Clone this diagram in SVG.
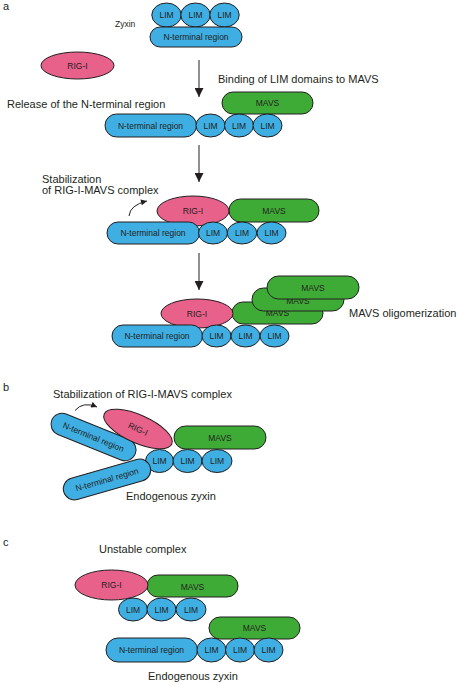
<svg xmlns="http://www.w3.org/2000/svg" width="458" height="685" viewBox="0 0 458 685">
<defs>
<style>
.b{fill:#3eaee3;stroke:#231f20;stroke-width:1}
.p{fill:#e8618b;stroke:#231f20;stroke-width:1}
.g{fill:#3fab37;stroke:#231f20;stroke-width:1}
.t{font-family:"Liberation Sans",Arial,sans-serif;font-size:8.5px;fill:#231f20;text-anchor:middle}
.c{font-family:"Liberation Sans",Arial,sans-serif;font-size:11px;fill:#231f20}
.pl{font-family:"Liberation Sans",Arial,sans-serif;font-size:11px;fill:#231f20}
.ln{fill:none;stroke:#231f20;stroke-width:1}
</style>
<marker id="ah" viewBox="0 0 10 10" refX="10" refY="5" markerWidth="11" markerHeight="9" markerUnits="userSpaceOnUse" orient="auto"><path d="M0,0 L10,5 L0,10 z" fill="#231f20"/></marker>
<marker id="ahs" viewBox="0 0 10 10" refX="10" refY="5" markerWidth="7" markerHeight="6" markerUnits="userSpaceOnUse" orient="auto"><path d="M0,0 L10,5 L0,10 z" fill="#231f20"/></marker>
</defs>

<text class="pl" x="3" y="10">a</text>
<text class="pl" x="3" y="391">b</text>
<text class="pl" x="3" y="546">c</text>

<!-- panel a, row 1 -->
<g id="zyxin-top">
<ellipse class="b" cx="166.5" cy="15" rx="14.7" ry="12"/>
<ellipse class="b" cx="195.5" cy="15" rx="14.7" ry="12"/>
<ellipse class="b" cx="224.5" cy="15" rx="14.7" ry="12"/>
<rect class="b" x="150" y="27" width="92" height="20" rx="10"/>
<text class="t" x="166.5" y="18">LIM</text>
<text class="t" x="195.5" y="18">LIM</text>
<text class="t" x="224.5" y="18">LIM</text>
<text class="t" x="196" y="40">N-terminal region</text>
<text class="t" x="115" y="27" style="text-anchor:start">Zyxin</text>
</g>
<g id="rigi-top">
<ellipse class="p" cx="77.5" cy="65.5" rx="36.5" ry="13.5"/>
<text class="t" x="77.5" y="68.5">RIG-I</text>
</g>

<text class="c" x="218" y="82.5">Binding of LIM domains to MAVS</text>
<text class="c" x="7" y="107.5">Release of the N-terminal region</text>

<!-- row 2 -->
<g id="row2">
<rect class="g" x="222" y="92" width="91" height="22" rx="11"/>
<text class="t" x="267.5" y="106">MAVS</text>
<rect class="b" x="105" y="114" width="91.5" height="23" rx="11.5"/>
<ellipse class="b" cx="210.5" cy="125.5" rx="14.5" ry="11.5"/>
<ellipse class="b" cx="239" cy="125.5" rx="14.5" ry="11.5"/>
<ellipse class="b" cx="267.5" cy="125.5" rx="14.5" ry="11.5"/>
<text class="t" x="150.5" y="128.5">N-terminal region</text>
<text class="t" x="210.5" y="128.5">LIM</text>
<text class="t" x="239" y="128.5">LIM</text>
<text class="t" x="267.5" y="128.5">LIM</text>
</g>

<text class="c" x="42" y="182.5">Stabilization</text>
<text class="c" x="42" y="193.5">of RIG-I-MAVS complex</text>

<!-- row 3 -->
<g id="row3">
<rect class="g" x="229" y="199" width="90" height="23" rx="11.5"/>
<ellipse class="p" cx="193" cy="211" rx="36" ry="15"/>
<rect class="b" x="107" y="222" width="92.5" height="22" rx="11"/>
<ellipse class="b" cx="213" cy="233" rx="14.5" ry="11"/>
<ellipse class="b" cx="242" cy="233" rx="14.8" ry="11"/>
<ellipse class="b" cx="271.5" cy="233" rx="14.5" ry="11"/>
<text class="t" x="193" y="214">RIG-I</text>
<text class="t" x="274" y="214">MAVS</text>
<text class="t" x="153" y="236">N-terminal region</text>
<text class="t" x="213" y="236">LIM</text>
<text class="t" x="242" y="236">LIM</text>
<text class="t" x="271.5" y="236">LIM</text>
</g>

<!-- row 4 -->
<g id="row4">
<rect class="g" x="232" y="302" width="91" height="22" rx="11"/>
<text class="t" x="277.5" y="316">MAVS</text>
<rect class="g" x="252" y="288" width="92" height="23" rx="11.5"/>
<text class="t" x="298" y="303.5">MAVS</text>
<rect class="g" x="267" y="276" width="92" height="23" rx="11.5"/>
<text class="t" x="313" y="290.5">MAVS</text>
<ellipse class="p" cx="197" cy="313.5" rx="36" ry="14.5"/>
<text class="t" x="197" y="316.5">RIG-I</text>
<rect class="b" x="112" y="325" width="90.5" height="22" rx="11"/>
<ellipse class="b" cx="216.5" cy="336" rx="14.5" ry="11"/>
<ellipse class="b" cx="245.5" cy="336" rx="14.5" ry="11"/>
<ellipse class="b" cx="274.5" cy="336" rx="14.5" ry="11"/>
<text class="t" x="157" y="339">N-terminal region</text>
<text class="t" x="216.5" y="339">LIM</text>
<text class="t" x="245.5" y="339">LIM</text>
<text class="t" x="274.5" y="339">LIM</text>
</g>
<text class="c" x="349" y="317">MAVS oligomerization</text>

<!-- panel b -->
<text class="c" x="53" y="397.5">Stabilization of RIG-I-MAVS complex</text>
<g id="b-nterm1" transform="translate(93.5,437) rotate(22)">
<rect class="b" x="-45" y="-11" width="90" height="22" rx="11"/>
<text class="t" x="0" y="3">N-terminal region</text>
</g>
<g id="b-rigi" transform="translate(138,429) rotate(24)">
<ellipse class="p" cx="0" cy="0" rx="37" ry="14"/>
<text class="t" x="0" y="3">RIG-I</text>
</g>
<g id="b-mavs">
<rect class="g" x="174" y="426" width="92" height="23" rx="11.5"/>
<text class="t" x="220" y="440.5">MAVS</text>
</g>
<g id="b-lim">
<ellipse class="b" cx="159.5" cy="461" rx="14" ry="11.5"/>
<ellipse class="b" cx="187.5" cy="461" rx="14.5" ry="11.5"/>
<ellipse class="b" cx="217" cy="461" rx="15" ry="11.5"/>
<text class="t" x="159.5" y="464">LIM</text>
<text class="t" x="187.5" y="464">LIM</text>
<text class="t" x="217" y="464">LIM</text>
</g>
<g id="b-nterm2" transform="translate(107,479.5) rotate(-16)">
<rect class="b" x="-45" y="-11" width="90" height="22" rx="11"/>
<text class="t" x="0" y="3">N-terminal region</text>
</g>
<text class="c" x="126" y="500">Endogenous zyxin</text>

<!-- panel c -->
<text class="c" x="99" y="553">Unstable complex</text>
<g id="c-complex1">
<rect class="g" x="147" y="575" width="91" height="22" rx="11"/>
<ellipse class="p" cx="111.5" cy="585" rx="36.5" ry="15"/>
<ellipse class="b" cx="133" cy="609.5" rx="14.5" ry="11.5"/>
<ellipse class="b" cx="161.5" cy="609.5" rx="14.5" ry="11.5"/>
<ellipse class="b" cx="191" cy="609.5" rx="15" ry="11.5"/>
<text class="t" x="111.5" y="588">RIG-I</text>
<text class="t" x="192.5" y="589.5">MAVS</text>
<text class="t" x="133" y="612.5">LIM</text>
<text class="t" x="161.5" y="612.5">LIM</text>
<text class="t" x="191" y="612.5">LIM</text>
</g>
<g id="c-complex2">
<rect class="g" x="209" y="617" width="91" height="22" rx="11"/>
<text class="t" x="254.5" y="631">MAVS</text>
<rect class="b" x="106" y="638" width="91.5" height="24" rx="12"/>
<ellipse class="b" cx="211.5" cy="650" rx="14.5" ry="12"/>
<ellipse class="b" cx="240" cy="650" rx="14.5" ry="12"/>
<ellipse class="b" cx="268.5" cy="650" rx="14.5" ry="12"/>
<text class="t" x="151.5" y="653">N-terminal region</text>
<text class="t" x="211.5" y="653">LIM</text>
<text class="t" x="240" y="653">LIM</text>
<text class="t" x="268.5" y="653">LIM</text>
</g>
<text class="c" x="148" y="680">Endogenous zyxin</text>

<!-- connectors -->
<g id="connectors">
<line class="ln" x1="199" y1="60" x2="199" y2="97" marker-end="url(#ah)"/>
<line class="ln" x1="199" y1="145" x2="199" y2="182" marker-end="url(#ah)"/>
<line class="ln" x1="199" y1="253" x2="199" y2="290" marker-end="url(#ah)"/>
<path class="ln" d="M129,216 Q130,205 147,201" marker-end="url(#ahs)"/>
<path class="ln" d="M75,410.5 Q83,401 97,407" marker-end="url(#ahs)"/>
</g>
</svg>
